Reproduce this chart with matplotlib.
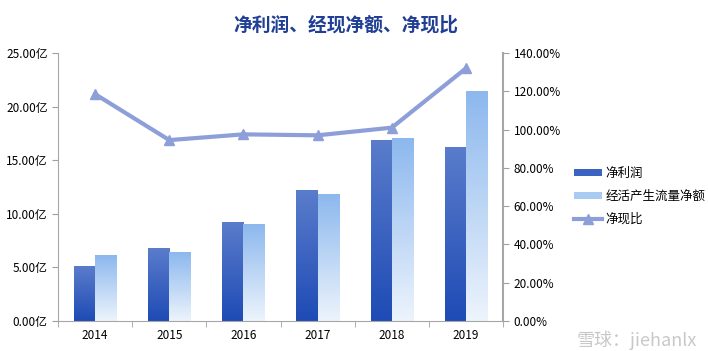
import numpy as np
import matplotlib
matplotlib.use('Agg')
from matplotlib import pyplot as plt
from matplotlib.colors import LinearSegmentedColormap
from matplotlib.patches import Patch
from matplotlib.lines import Line2D

plt.rcParams['font.family'] = ['Noto Sans CJK SC', 'DejaVu Sans']

# data
years = ['2014', '2015', '2016', '2017', '2018', '2019']
net_profit = [5.1, 6.8, 9.2, 12.15, 16.85, 16.2]      # 亿
op_cash = [6.1, 6.4, 9.0, 11.8, 17.05, 21.4]          # 亿
cash_ratio = [118.5, 94.5, 97.5, 97.0, 101.0, 132.0]  # %

dark_top, dark_bot = '#5A7CCB', '#1E4BB5'
light_top, light_bot = '#8CB8EE', '#EDF4FC'
line_col = '#8E9ED8'
title_col = '#1F3E94'

fig = plt.figure(figsize=(7.08, 3.51), dpi=100)
ax = fig.add_axes([0.082, 0.0855, 0.6285, 0.7635])

x = np.arange(len(years))
w = 0.285
b1 = ax.bar(x - w / 2, net_profit, w, color='none', zorder=2)
b2 = ax.bar(x + w / 2, op_cash, w, color='none', zorder=2)


def fill_gradient(bars, top, bot):
    cmap = LinearSegmentedColormap.from_list('g', [bot, top])
    grad = np.linspace(0, 1, 256).reshape(-1, 1)
    for p in bars:
        x0, y0 = p.get_x(), p.get_y()
        ax.imshow(grad, cmap=cmap, origin='lower', aspect='auto', zorder=2,
                  extent=[x0, x0 + p.get_width(), y0, y0 + p.get_height()])


fill_gradient(b1, dark_top, dark_bot)
fill_gradient(b2, light_top, light_bot)

ax.set_xlim(-0.5, len(years) - 0.5)
ax.set_ylim(0, 25)
ax.set_yticks(np.arange(0, 25.1, 5))
ax.set_yticklabels(['{:.2f}亿'.format(v) for v in np.arange(0, 25.1, 5)], fontsize=8.5)
ax.set_xticks(x)
ax.set_xticklabels(years, fontsize=8.5)
ax.set_xticks(np.arange(-0.5, len(years), 1), minor=True)
ax.tick_params(axis='x', which='major', length=0, pad=6)
ax.tick_params(axis='x', which='minor', length=4, color='#A0A0A0')
ax.tick_params(axis='y', length=4, color='#A0A0A0')
for s in ['top', 'right']:
    ax.spines[s].set_visible(False)
for s in ['left', 'bottom']:
    ax.spines[s].set_color('#A6A6A6')

ax2 = ax.twinx()
ax2.plot(x, cash_ratio, color=line_col, lw=3, marker='^', ms=7, zorder=3)
ax2.set_ylim(0, 140)
ax2.set_yticks(np.arange(0, 141, 20))
ax2.set_yticklabels(['{:.2f}%'.format(v) for v in np.arange(0, 141, 20)], fontsize=8.5)
ax2.tick_params(axis='y', length=4, color='#A0A0A0')
for s in ['top', 'left', 'bottom']:
    ax2.spines[s].set_visible(False)
ax2.spines['right'].set_color('#A6A6A6')
ax2.spines['right'].set_linewidth(1.5)

fig.text(0.488, 0.93, '净利润、经现净额、净现比', ha='center', va='center',
         fontsize=13.5, fontweight='bold', color=title_col)

handles = [Patch(facecolor='#3A63C2'), Patch(facecolor='#A9CBF3'),
           Line2D([], [], color=line_col, lw=3, marker='^', ms=7)]
fig.legend(handles, ['净利润', '经活产生流量净额', '净现比'], loc='center left',
           bbox_to_anchor=(0.795, 0.44), frameon=False, fontsize=9,
           handlelength=2.2, handleheight=0.5, labelspacing=0.8, handletextpad=0.3)

fig.text(0.985, 0.03, '雪球：jiehanlx', ha='right', va='center', fontsize=13,
         color='#BBBBBB', alpha=0.8)

fig.savefig('out.png', dpi=100)
